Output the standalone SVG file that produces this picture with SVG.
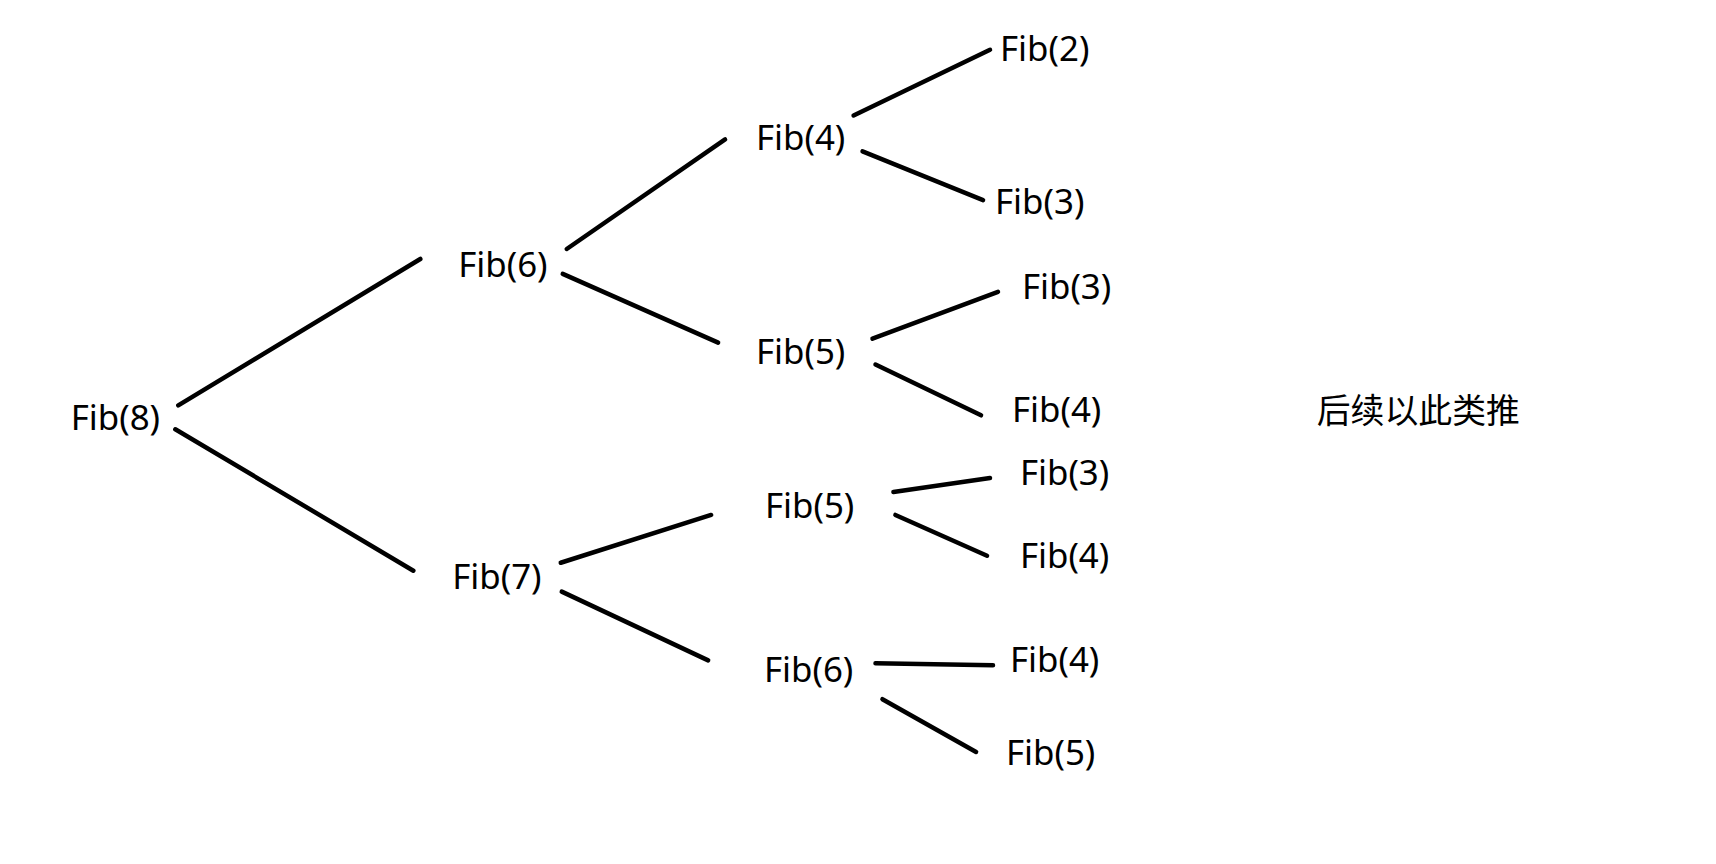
<svg xmlns="http://www.w3.org/2000/svg" width="1716" height="864" viewBox="0 0 1716 864">
<style>
text{font-family:"Noto Sans","Open Sans","Noto Sans CJK SC",sans-serif;font-size:35px;fill:#000}
.cjk{font-family:"Noto Sans CJK SC",sans-serif;font-size:34px}
#edges line{stroke:#000;stroke-width:4.5;stroke-linecap:round}
</style>
<rect width="1716" height="864" fill="#fff"/>
<g transform="scale(0.996)">
<g id="edges">
<line x1="179" y1="407" x2="422" y2="260"/>
<line x1="176" y1="431" x2="415" y2="573"/>
<line x1="569" y1="250" x2="728" y2="140"/>
<line x1="565" y1="275" x2="721" y2="344"/>
<line x1="857" y1="116" x2="994" y2="50"/>
<line x1="866" y1="152" x2="987" y2="201"/>
<line x1="876" y1="340" x2="1002" y2="293"/>
<line x1="879" y1="366" x2="985" y2="417"/>
<line x1="563" y1="565" x2="714" y2="517"/>
<line x1="564" y1="594" x2="711" y2="663"/>
<line x1="897" y1="494" x2="994" y2="480"/>
<line x1="899" y1="517" x2="991" y2="558"/>
<line x1="879" y1="666" x2="997" y2="668"/>
<line x1="886" y1="702" x2="980" y2="755"/>
</g>
<g id="n-fib8"><text x="71" y="432">Fib(8)</text></g>
<g id="n-fib6a"><text x="460" y="278">Fib(6)</text></g>
<g id="n-fib7"><text x="454" y="591">Fib(7)</text></g>
<g id="n-fib4a"><text x="759" y="151">Fib(4)</text></g>
<g id="n-fib5a"><text x="759" y="365">Fib(5)</text></g>
<g id="n-fib5b"><text x="768" y="520">Fib(5)</text></g>
<g id="n-fib6b"><text x="767" y="685">Fib(6)</text></g>
<g id="n-fib2"><text x="1004" y="61">Fib(2)</text></g>
<g id="n-fib3a"><text x="999" y="215">Fib(3)</text></g>
<g id="n-fib3b"><text x="1026" y="300">Fib(3)</text></g>
<g id="n-fib4b"><text x="1016" y="424">Fib(4)</text></g>
<g id="n-fib3c"><text x="1024" y="487">Fib(3)</text></g>
<g id="n-fib4c"><text x="1024" y="570">Fib(4)</text></g>
<g id="n-fib4d"><text x="1014" y="675">Fib(4)</text></g>
<g id="n-fib5c"><text x="1010" y="768">Fib(5)</text></g>
<g id="note"><text class="cjk" x="1322" y="425">后续以此类推</text></g>
</g>
</svg>
